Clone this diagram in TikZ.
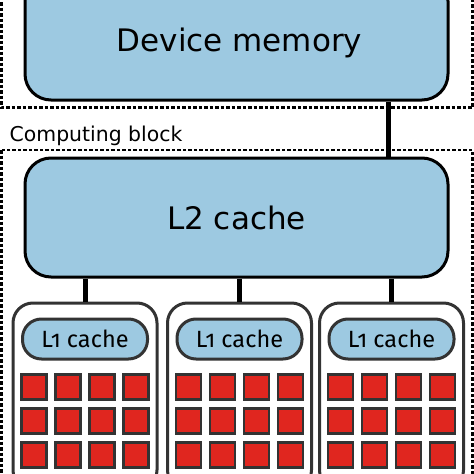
\documentclass[tikz,border=0pt]{standalone}
\usepackage{fontspec}
\setmainfont{DejaVu Sans}
\newfontfamily\lonefont[Numbers=OldStyle]{Fira Sans}
\definecolor{boxblue}{HTML}{9DC9E1}
\definecolor{sqred}{HTML}{E0261F}
\definecolor{darkedge}{HTML}{333333}
\begin{document}
\begin{tikzpicture}[x=1pt,y=-1pt,
  dashbox/.style={draw=black,line width=2.2pt,dash pattern=on 3.5pt off 2pt},
  bigbox/.style={draw=black,line width=3pt,fill=boxblue,rounded corners=26pt,inner sep=0pt,font=\fontsize{31}{36}\selectfont},
  conn/.style={draw=black,line width=5pt},
  blockbox/.style={draw=darkedge,line width=3pt,fill=white,rounded corners=20pt,minimum width=144pt,minimum height=187pt,inner sep=0pt},
  pill/.style={draw=darkedge,line width=3pt,fill=boxblue,rounded corners=19pt,minimum width=125pt,minimum height=40pt,inner sep=0pt,font=\lonefont\fontsize{23.5}{28}\selectfont},
  core/.style={draw=darkedge,line width=2.6pt,fill=sqred,minimum size=25pt,inner sep=0pt}
]
\useasboundingbox (0,0) rectangle (474,474);
\clip (0,0) rectangle (474,474);
% dashed regions
\draw[dashbox] (1.5,-20) rectangle (472.5,107.5);
\draw[dashbox] (1.5,150) rectangle (472.5,500);
\node[anchor=base west,inner sep=0pt,font=\fontsize{20.4}{24}\selectfont] (cb) at (9.5,141.5) {Computing block};
% main boxes
\node[bigbox,minimum width=423pt,minimum height=125pt] (dm) at (236.5,37.5) {};
\node[font=\fontsize{31}{36}\selectfont] (dmt) at (239.5,43) {Device memory};
\node[bigbox,minimum width=423pt,minimum height=119pt] (l2) at (236.5,217.5) {L2 cache};
\coordinate (c1) at (388,0);
\draw[conn] (dm.south -| c1) -- (l2.north -| c1);
% L1 blocks
\foreach \i/\cx in {1/85,2/239.5,3/391.5}{
  \node[blockbox] (b\i) at (\cx,396.5) {};
  \node[pill] (p\i) at (\cx,339) {L1 cache};
  \foreach \r/\ry in {1/387,2/421,3/455}{
    \foreach \c/\dx in {1/-51,2/-17,3/17,4/51}{
      \node[core] (s\i\r\c) at (\cx+\dx,\ry) {};
    }
  }
  \draw[conn] (l2.south -| b\i.north) -- (b\i.north);
}
\end{tikzpicture}
\end{document}
